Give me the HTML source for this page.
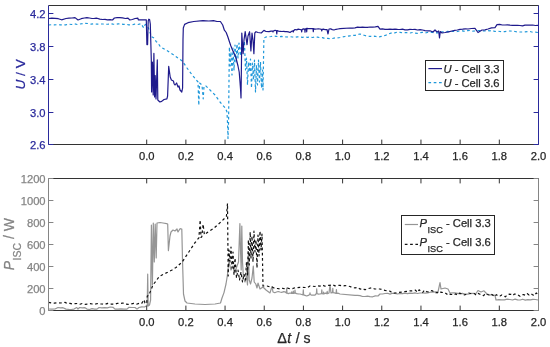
<!DOCTYPE html><html><head><meta charset="utf-8"><title>Figure</title><style>html,body{margin:0;padding:0;background:#fff;}body{width:550px;height:347px;overflow:hidden;}svg{display:block;}text{font-family:"Liberation Sans",Arial,Helvetica,sans-serif;}</style></head><body>
<svg width="550" height="347" viewBox="0 0 550 347">
<rect width="550" height="347" fill="#fff"/>
<defs><clipPath id="cu"><rect x="48.5" y="5.5" width="490" height="139"/></clipPath><clipPath id="cp"><rect x="48.5" y="178.5" width="490" height="132"/></clipPath></defs>
<g clip-path="url(#cu)" fill="none" stroke-linejoin="round">
<polyline points="48.5,25.0 51.4,24.7 54.2,24.9 57.1,24.7 60.0,24.8 62.9,24.8 65.8,24.8 68.7,24.1 71.6,24.5 74.4,23.8 77.2,24.5 80.0,24.0 82.7,23.6 85.3,23.4 88.0,23.5 91.0,24.1 94.0,23.7 97.0,24.2 100.0,24.0 102.7,24.0 105.3,24.3 108.0,24.2 110.5,23.8 113.1,24.2 115.6,24.3 118.2,23.9 120.7,23.8 123.3,24.3 126.0,24.3 128.8,24.8 131.6,25.0 134.7,24.2 137.9,24.5 141.0,23.8 143.7,27.9 144.8,25.0 146.0,24.4 147.5,26.0 149.4,30.2 151.3,36.5 153.5,37.7 156.3,41.7 158.0,42.9 160.4,46.9 166.0,50.0 173.4,54.7 182.5,61.2 187.0,68.0 191.6,74.2 198.0,82.0 198.8,105.3 199.6,83.0 202.0,85.0 203.2,98.8 204.0,86.0 205.8,85.8 210.0,90.0 215.0,95.0 220.0,102.0 225.3,108.0 227.0,112.0 227.6,125.0 228.0,138.4 228.6,120.0 229.0,80.0 229.4,47.0 230.2,66.0 231.0,52.0 232.0,75.0 233.0,48.0 234.0,70.0 235.0,45.0 236.0,62.0 237.0,44.0 238.0,58.0 239.0,43.0 240.5,56.0 241.5,44.0 243.0,52.0 244.4,41.0 245.5,70.0 246.5,58.0 247.5,85.0 248.5,62.0 249.6,72.0 250.5,59.0 251.5,88.0 252.5,63.0 253.5,80.0 254.5,60.0 255.5,92.0 256.5,65.0 257.5,85.0 258.5,60.0 259.5,82.0 260.5,62.0 261.5,88.0 262.5,70.0 263.0,90.0 263.5,60.0 263.9,38.0 266.0,37.0 268.5,36.9 271.0,36.5 273.5,36.0 276.0,36.3 278.8,36.7 281.6,36.4 284.4,36.8 287.2,37.0 290.0,36.7 292.5,37.0 295.0,37.3 297.5,36.8 300.0,37.0 302.5,37.3 305.0,36.9 307.5,37.4 310.0,37.0 312.5,37.5 315.0,36.9 317.5,37.1 320.0,37.6 322.5,37.6 325.0,38.6 327.5,38.3 330.0,38.6 332.5,38.5 335.0,37.9 337.5,37.8 340.0,37.5 342.5,37.0 345.0,36.5 347.5,36.3 350.0,35.8 352.5,35.4 355.0,35.3 357.5,34.6 360.0,34.0 362.5,35.0 365.0,35.5 367.5,36.2 370.0,36.3 372.5,36.6 375.0,36.2 377.5,37.0 380.0,36.7 383.0,36.2 386.0,35.1 389.0,33.8 392.0,32.7 394.7,32.8 397.3,32.1 400.0,32.3 402.5,32.8 405.0,32.7 407.5,32.6 410.0,33.0 412.5,32.5 415.0,33.2 417.5,33.3 420.0,32.7 422.5,32.3 425.0,33.0 427.5,32.5 430.0,32.3 432.5,32.4 435.0,32.8 437.5,32.9 440.0,32.5 442.5,31.8 445.0,32.2 447.5,31.4 450.0,31.9 452.5,31.3 455.0,31.6 457.5,31.5 460.0,30.8 462.5,30.8 465.0,31.4 467.5,30.7 470.0,30.5 472.5,31.1 475.0,31.0 477.5,30.5 480.0,30.6 482.5,30.8 485.0,31.0 487.5,30.5 490.0,30.8 492.5,30.5 495.0,31.5 497.5,31.1 500.0,31.5 502.5,31.8 505.0,31.6 507.5,31.0 510.0,31.0 512.5,31.2 515.0,31.5 517.5,31.9 520.0,32.0 522.5,32.0 525.0,31.8 527.5,31.7 530.0,31.5 532.7,32.3 535.3,32.2 538.0,32.5" stroke="#1f98da" stroke-width="1.2" stroke-dasharray="2.7 2.6"/>
<polyline points="48.5,18.5 51.8,18.2 55.0,18.3 58.3,18.7 61.6,19.8 66.0,18.5 69.0,18.2 72.0,18.0 75.0,17.6 78.0,20.0 81.2,18.7 84.4,18.0 86.9,17.6 89.4,18.0 92.0,18.5 94.5,18.4 97.0,18.2 99.8,19.1 102.5,19.5 105.0,19.4 107.5,19.8 110.0,19.7 112.5,20.0 114.4,18.0 117.1,17.7 119.8,17.7 122.6,17.9 125.3,18.5 128.0,18.2 129.8,20.0 132.4,19.5 135.0,18.5 137.9,18.2 138.3,19.8 146.3,19.8 146.9,44.6 147.6,44.6 148.2,21.0 148.8,19.2 149.6,19.5 150.3,24.0 151.3,60.0 151.6,92.0 152.4,62.0 153.2,95.0 153.9,53.4 154.6,97.0 155.2,75.5 156.0,99.0 157.3,59.9 157.8,100.0 159.9,102.0 161.7,101.4 164.0,99.5 166.9,98.8 167.6,96.0 168.7,66.4 170.2,77.0 171.4,80.0 173.4,81.0 174.2,84.0 175.0,85.0 176.6,83.0 178.0,87.0 179.0,86.0 180.0,90.0 181.8,92.0 182.6,88.0 183.0,40.0 183.3,28.0 184.6,24.4 188.0,22.7 193.8,21.5 203.0,20.7 208.8,21.0 213.5,20.6 217.0,21.5 220.4,21.5 222.7,25.0 224.4,30.2 226.2,32.5 227.9,37.0 229.6,42.3 230.8,45.8 232.5,50.0 234.0,53.0 236.0,58.0 238.0,66.0 239.2,72.0 240.0,82.0 240.6,90.0 241.0,98.0 241.5,60.0 241.8,33.0 243.1,53.7 244.0,40.0 245.2,31.7 247.0,44.6 248.0,36.0 249.6,31.7 250.9,51.0 252.0,33.0 253.0,40.0 253.9,53.7 254.8,33.0 256.0,31.7 258.0,32.5 261.3,33.0 263.9,30.4 266.0,31.5 269.0,31.7 271.0,31.2 272.7,31.0 273.0,32.0 273.3,31.0 275.0,30.4 276.4,30.5 276.8,34.0 277.1,30.5 278.5,31.1 280.2,31.3 282.0,31.5 283.6,31.3 285.2,31.6 286.8,31.7 288.4,31.9 290.0,32.5 291.7,31.3 293.0,30.8 293.3,32.0 293.6,30.8 295.0,29.5 296.7,29.9 298.3,29.1 300.0,29.5 301.4,29.8 301.7,32.0 302.0,29.8 303.3,28.8 304.7,29.1 305.0,32.2 305.3,29.1 306.4,28.4 306.7,31.8 307.0,28.4 308.3,28.6 310.0,28.5 311.7,28.7 313.0,28.6 313.3,31.7 313.6,28.6 315.0,29.2 316.7,29.0 318.3,28.8 320.0,29.0 321.4,29.3 321.8,31.0 322.1,29.3 323.5,29.1 325.2,29.7 327.0,29.5 328.0,34.0 329.0,29.0 330.7,28.9 332.3,29.6 334.0,30.0 336.0,29.3 338.0,29.0 340.0,28.7 350.0,28.0 352.5,28.1 355.0,27.9 357.5,27.2 360.0,27.3 362.5,27.1 365.0,27.3 367.5,27.3 370.0,27.0 372.7,27.1 375.3,26.9 378.0,26.3 380.0,29.2 382.5,28.8 385.0,29.3 387.5,29.4 390.0,29.2 392.5,29.3 395.0,29.1 397.5,29.4 400.0,29.5 402.5,29.1 405.0,29.8 407.5,29.8 410.0,29.4 412.5,29.5 415.0,29.4 417.5,30.0 420.0,29.7 422.5,30.0 425.0,30.6 427.5,30.8 430.0,30.8 433.0,32.0 435.0,30.0 437.0,32.0 438.7,31.0 439.5,38.0 440.3,31.5 442.0,33.0 445.0,32.5 448.5,31.8 452.0,31.0 454.7,30.4 457.3,30.0 460.0,29.4 462.7,29.2 465.3,28.8 468.0,29.0 471.5,28.5 475.0,28.4 478.0,32.5 482.0,30.0 485.0,29.8 488.0,29.0 491.5,27.9 495.0,27.7 497.0,24.7 499.7,24.4 502.3,25.0 505.0,25.0 507.5,24.9 510.0,25.2 512.5,25.3 515.0,25.3 517.5,25.3 520.0,25.5 522.5,25.9 525.0,25.1 527.5,25.2 530.0,25.2 532.7,25.0 535.3,25.5 538.0,25.4" stroke="#1f1a8c" stroke-width="1.2"/>
</g>
<g clip-path="url(#cp)" fill="none" stroke-linejoin="round">
<polyline points="48.5,309.0 51.8,309.1 55.0,309.0 58.0,307.5 60.5,307.8 63.0,307.7 66.0,309.1 68.7,309.4 71.3,309.5 74.0,309.1 76.8,307.5 78.0,309.1 79.5,307.5 82.2,307.8 85.0,307.7 87.0,309.1 89.5,309.5 92.0,308.6 94.5,309.1 97.0,309.1 99.0,307.5 101.8,307.9 104.6,307.6 107.4,307.8 110.2,307.0 113.0,307.3 115.0,309.1 118.0,309.1 121.0,308.8 124.0,309.1 127.0,309.1 129.0,307.3 132.0,307.5 135.0,307.5 137.0,309.1 139.0,307.5 141.8,306.8 144.5,307.0 146.2,306.0 147.2,306.0 147.7,274.2 148.2,306.0 149.5,305.0 150.6,300.0 151.4,225.0 152.4,285.0 153.3,223.0 154.3,262.0 155.2,224.0 156.2,258.0 157.0,223.0 160.0,222.5 163.0,223.0 166.6,223.6 167.7,224.0 168.4,250.6 170.0,236.0 171.0,232.0 173.0,230.0 175.0,231.0 177.0,229.0 178.0,232.0 180.0,228.7 181.8,229.0 182.5,260.0 183.5,294.0 185.0,301.0 187.0,303.0 195.0,304.0 205.0,304.5 215.0,304.0 220.5,303.0 222.0,298.0 224.0,292.6 226.0,284.0 227.3,276.0 228.4,266.0 229.0,262.0 231.0,270.0 233.0,266.0 235.0,272.0 237.0,266.0 238.5,262.0 239.3,240.0 239.9,223.6 240.5,250.0 241.2,270.0 241.8,226.0 242.5,262.0 243.5,278.0 245.0,282.0 246.5,276.0 247.5,285.0 248.4,252.0 249.2,280.0 250.5,284.0 252.0,278.0 253.3,266.0 254.2,282.0 255.8,284.0 257.0,288.0 258.0,283.0 260.0,289.0 263.0,287.0 266.0,290.0 268.0,291.4 270.0,292.9 272.0,286.5 273.0,292.0 274.8,292.7 276.5,292.0 278.2,291.5 280.0,292.0 281.7,292.4 283.3,291.7 285.0,291.8 286.4,293.0 286.7,288.0 287.0,293.0 288.3,293.6 290.0,293.0 291.4,293.4 291.7,291.8 292.0,293.4 293.0,293.4 293.3,291.2 293.6,293.4 294.7,293.1 295.0,290.0 295.3,293.1 296.7,293.6 298.3,293.9 300.0,294.0 301.7,294.5 303.0,294.9 303.3,289.9 303.6,294.9 305.0,295.4 306.7,296.0 308.3,295.4 309.7,294.5 310.0,292.8 310.3,294.5 311.7,295.2 313.3,295.2 315.0,295.2 316.4,293.5 316.7,288.8 317.0,293.5 318.3,294.1 320.0,294.0 321.5,293.6 321.8,289.9 322.1,293.6 323.3,294.0 323.6,292.2 323.9,294.0 325.4,293.1 326.9,293.6 327.2,291.3 327.5,293.6 329.0,293.0 330.0,285.0 331.0,293.0 332.5,292.6 332.8,288.3 333.1,292.6 334.6,292.9 336.1,293.5 336.4,289.5 336.7,293.5 338.2,293.2 340.0,294.0 355.0,295.4 357.5,295.3 360.0,295.6 362.5,296.5 365.0,296.5 367.5,296.1 370.0,296.7 372.7,296.8 375.3,295.9 378.0,296.0 380.0,294.0 382.5,294.0 385.0,293.5 387.5,293.3 390.0,294.1 392.5,293.3 395.0,293.3 397.5,294.0 400.0,293.4 402.5,293.7 405.0,293.1 407.5,293.7 410.0,293.2 412.5,293.3 415.0,292.8 417.5,293.5 420.0,293.0 422.6,293.0 425.1,293.2 427.7,293.0 430.3,292.2 432.9,292.1 435.4,291.8 438.0,292.0 440.0,282.7 441.0,289.0 443.0,288.5 445.0,288.0 448.0,289.0 450.0,293.0 452.5,292.8 455.0,292.9 457.5,293.3 460.0,293.8 462.5,293.3 465.0,294.0 467.8,294.1 470.5,293.6 473.2,293.4 476.0,293.5 478.0,290.5 481.0,292.0 484.0,290.8 487.0,294.0 489.7,294.8 492.3,294.9 495.0,295.4 496.0,300.0 498.8,299.7 501.6,299.8 504.4,299.9 507.2,299.2 510.0,299.5 512.5,300.0 515.1,299.1 517.6,299.9 520.2,300.0 522.7,299.2 525.3,300.1 527.8,299.7 530.4,299.9 532.9,299.4 535.5,299.5 538.0,300.0" stroke="#959595" stroke-width="1.2"/>
<polyline points="48.5,302.3 51.4,302.9 54.2,303.2 57.1,302.8 60.0,303.0 62.5,302.7 65.0,302.4 67.5,303.6 70.0,303.4 72.5,304.0 75.0,303.7 77.5,303.5 80.0,304.2 82.5,303.4 85.0,304.3 87.5,304.2 90.0,303.7 92.5,304.0 95.0,304.2 97.5,303.5 100.0,304.0 102.5,304.0 105.0,304.4 107.5,303.4 110.0,304.2 112.5,304.0 115.0,304.2 117.5,303.3 120.0,303.5 122.8,303.0 125.5,304.2 128.2,304.3 131.0,303.9 133.8,303.4 136.5,304.2 139.1,303.3 141.7,303.4 144.0,299.7 145.0,303.0 146.7,303.7 147.3,296.0 148.8,295.3 153.0,284.9 156.0,281.0 159.2,276.5 163.0,274.5 167.6,272.3 172.0,270.0 176.0,267.5 182.2,262.0 188.5,252.5 194.7,243.0 198.9,237.8 200.2,220.0 201.0,237.5 201.8,236.8 203.1,224.3 204.4,234.7 208.0,232.0 213.5,228.5 218.0,224.5 221.9,221.0 226.4,216.5 227.5,203.4 228.2,276.0 229.0,250.0 230.0,262.0 231.0,247.0 232.0,268.0 233.0,252.0 234.0,275.0 235.0,258.0 236.5,278.0 238.0,270.0 239.5,280.0 241.0,272.0 242.5,282.0 244.0,274.0 245.5,280.0 246.5,262.0 247.5,275.0 248.4,240.0 249.3,265.0 250.2,232.0 251.0,258.0 252.0,236.0 253.0,262.0 254.0,231.0 255.0,252.0 256.0,240.0 257.0,268.0 258.0,235.0 259.0,256.0 260.0,231.0 261.0,250.0 262.0,234.0 263.0,286.0 267.0,286.0 269.6,286.8 272.2,286.9 274.8,288.5 277.4,288.5 280.0,289.0 282.5,288.3 285.0,288.8 287.5,288.1 290.0,288.8 292.5,288.6 295.0,287.7 297.5,287.7 300.0,287.3 302.5,287.4 305.0,287.5 307.5,287.6 310.0,285.9 312.5,286.2 315.0,286.5 317.5,285.8 320.0,286.1 322.5,285.1 325.0,286.2 327.5,285.5 330.0,285.3 332.5,284.8 335.0,285.9 337.5,285.4 340.0,285.4 342.5,286.0 345.0,285.6 347.5,285.9 350.0,286.5 352.5,287.6 355.0,287.9 357.5,287.4 360.0,289.1 362.5,288.5 365.0,289.8 368.5,288.5 372.0,287.8 374.6,289.0 377.2,289.0 379.8,289.0 382.4,289.7 385.0,290.4 387.5,290.9 390.0,291.1 392.5,293.1 395.0,293.0 410.0,290.9 411.8,290.9 413.6,290.7 415.5,290.1 417.3,292.2 419.1,289.8 420.9,291.3 422.7,292.5 424.5,290.2 426.4,291.6 428.2,291.9 430.0,291.6 431.8,290.6 433.6,291.7 435.5,292.9 437.3,292.4 439.1,293.4 440.9,292.1 442.7,292.5 444.5,292.4 446.4,293.7 448.2,295.2 450.0,294.2 451.9,294.5 453.8,295.0 455.6,293.9 457.5,294.9 459.4,293.1 461.2,293.6 463.1,294.7 465.0,294.8 466.9,294.0 468.8,293.0 470.6,293.5 472.5,293.4 474.4,293.6 476.2,295.1 478.1,293.4 480.0,294.2 481.8,295.4 483.6,295.6 485.5,293.4 487.3,294.5 489.1,295.0 490.9,293.8 492.7,295.1 494.5,296.6 496.4,294.6 498.2,296.1 500.0,296.0 501.8,294.9 503.6,296.0 505.4,296.8 507.2,294.8 509.0,294.2 510.9,294.3 512.7,295.5 514.5,294.0 516.3,294.1 518.1,295.1 519.9,296.2 521.7,294.7 523.5,294.6 525.3,295.2 527.1,293.6 529.0,294.9 530.8,293.6 532.6,294.8 534.4,295.7 536.2,293.0 538.0,294.2" stroke="#111" stroke-width="1.2" stroke-dasharray="2.7 2.6"/>
</g>
<line x1="48.5" y1="5.5" x2="538.5" y2="5.5" stroke="#333333" stroke-width="1"/>
<line x1="48.5" y1="144.5" x2="538.5" y2="144.5" stroke="#333333" stroke-width="1"/>
<line x1="146.7" y1="5.5" x2="146.7" y2="10.4" stroke="#333333" stroke-width="1"/>
<line x1="146.7" y1="144.5" x2="146.7" y2="139.6" stroke="#333333" stroke-width="1"/>
<line x1="185.88" y1="5.5" x2="185.88" y2="10.4" stroke="#333333" stroke-width="1"/>
<line x1="185.88" y1="144.5" x2="185.88" y2="139.6" stroke="#333333" stroke-width="1"/>
<line x1="225.06" y1="5.5" x2="225.06" y2="10.4" stroke="#333333" stroke-width="1"/>
<line x1="225.06" y1="144.5" x2="225.06" y2="139.6" stroke="#333333" stroke-width="1"/>
<line x1="264.24" y1="5.5" x2="264.24" y2="10.4" stroke="#333333" stroke-width="1"/>
<line x1="264.24" y1="144.5" x2="264.24" y2="139.6" stroke="#333333" stroke-width="1"/>
<line x1="303.42" y1="5.5" x2="303.42" y2="10.4" stroke="#333333" stroke-width="1"/>
<line x1="303.42" y1="144.5" x2="303.42" y2="139.6" stroke="#333333" stroke-width="1"/>
<line x1="342.6" y1="5.5" x2="342.6" y2="10.4" stroke="#333333" stroke-width="1"/>
<line x1="342.6" y1="144.5" x2="342.6" y2="139.6" stroke="#333333" stroke-width="1"/>
<line x1="381.78" y1="5.5" x2="381.78" y2="10.4" stroke="#333333" stroke-width="1"/>
<line x1="381.78" y1="144.5" x2="381.78" y2="139.6" stroke="#333333" stroke-width="1"/>
<line x1="420.96" y1="5.5" x2="420.96" y2="10.4" stroke="#333333" stroke-width="1"/>
<line x1="420.96" y1="144.5" x2="420.96" y2="139.6" stroke="#333333" stroke-width="1"/>
<line x1="460.14" y1="5.5" x2="460.14" y2="10.4" stroke="#333333" stroke-width="1"/>
<line x1="460.14" y1="144.5" x2="460.14" y2="139.6" stroke="#333333" stroke-width="1"/>
<line x1="499.32" y1="5.5" x2="499.32" y2="10.4" stroke="#333333" stroke-width="1"/>
<line x1="499.32" y1="144.5" x2="499.32" y2="139.6" stroke="#333333" stroke-width="1"/>
<line x1="538.5" y1="5.5" x2="538.5" y2="10.4" stroke="#333333" stroke-width="1"/>
<line x1="538.5" y1="144.5" x2="538.5" y2="139.6" stroke="#333333" stroke-width="1"/>
<line x1="48.5" y1="5.5" x2="48.5" y2="144.5" stroke="#2a2a9c" stroke-width="1"/>
<line x1="538.5" y1="5.5" x2="538.5" y2="144.5" stroke="#2a2a9c" stroke-width="1"/>
<line x1="48.5" y1="144.5" x2="53.4" y2="144.5" stroke="#2a2a9c" stroke-width="1"/>
<line x1="538.5" y1="144.5" x2="533.6" y2="144.5" stroke="#2a2a9c" stroke-width="1"/>
<line x1="48.5" y1="112.5" x2="53.4" y2="112.5" stroke="#2a2a9c" stroke-width="1"/>
<line x1="538.5" y1="112.5" x2="533.6" y2="112.5" stroke="#2a2a9c" stroke-width="1"/>
<line x1="48.5" y1="79.5" x2="53.4" y2="79.5" stroke="#2a2a9c" stroke-width="1"/>
<line x1="538.5" y1="79.5" x2="533.6" y2="79.5" stroke="#2a2a9c" stroke-width="1"/>
<line x1="48.5" y1="46.5" x2="53.4" y2="46.5" stroke="#2a2a9c" stroke-width="1"/>
<line x1="538.5" y1="46.5" x2="533.6" y2="46.5" stroke="#2a2a9c" stroke-width="1"/>
<line x1="48.5" y1="13.5" x2="53.4" y2="13.5" stroke="#2a2a9c" stroke-width="1"/>
<line x1="538.5" y1="13.5" x2="533.6" y2="13.5" stroke="#2a2a9c" stroke-width="1"/>
<line x1="48.5" y1="178.5" x2="538.5" y2="178.5" stroke="#333333" stroke-width="1"/>
<line x1="48.5" y1="310.5" x2="538.5" y2="310.5" stroke="#333333" stroke-width="1"/>
<line x1="146.7" y1="178.5" x2="146.7" y2="183.4" stroke="#333333" stroke-width="1"/>
<line x1="146.7" y1="310.5" x2="146.7" y2="305.6" stroke="#333333" stroke-width="1"/>
<line x1="185.88" y1="178.5" x2="185.88" y2="183.4" stroke="#333333" stroke-width="1"/>
<line x1="185.88" y1="310.5" x2="185.88" y2="305.6" stroke="#333333" stroke-width="1"/>
<line x1="225.06" y1="178.5" x2="225.06" y2="183.4" stroke="#333333" stroke-width="1"/>
<line x1="225.06" y1="310.5" x2="225.06" y2="305.6" stroke="#333333" stroke-width="1"/>
<line x1="264.24" y1="178.5" x2="264.24" y2="183.4" stroke="#333333" stroke-width="1"/>
<line x1="264.24" y1="310.5" x2="264.24" y2="305.6" stroke="#333333" stroke-width="1"/>
<line x1="303.42" y1="178.5" x2="303.42" y2="183.4" stroke="#333333" stroke-width="1"/>
<line x1="303.42" y1="310.5" x2="303.42" y2="305.6" stroke="#333333" stroke-width="1"/>
<line x1="342.6" y1="178.5" x2="342.6" y2="183.4" stroke="#333333" stroke-width="1"/>
<line x1="342.6" y1="310.5" x2="342.6" y2="305.6" stroke="#333333" stroke-width="1"/>
<line x1="381.78" y1="178.5" x2="381.78" y2="183.4" stroke="#333333" stroke-width="1"/>
<line x1="381.78" y1="310.5" x2="381.78" y2="305.6" stroke="#333333" stroke-width="1"/>
<line x1="420.96" y1="178.5" x2="420.96" y2="183.4" stroke="#333333" stroke-width="1"/>
<line x1="420.96" y1="310.5" x2="420.96" y2="305.6" stroke="#333333" stroke-width="1"/>
<line x1="460.14" y1="178.5" x2="460.14" y2="183.4" stroke="#333333" stroke-width="1"/>
<line x1="460.14" y1="310.5" x2="460.14" y2="305.6" stroke="#333333" stroke-width="1"/>
<line x1="499.32" y1="178.5" x2="499.32" y2="183.4" stroke="#333333" stroke-width="1"/>
<line x1="499.32" y1="310.5" x2="499.32" y2="305.6" stroke="#333333" stroke-width="1"/>
<line x1="538.5" y1="178.5" x2="538.5" y2="183.4" stroke="#333333" stroke-width="1"/>
<line x1="538.5" y1="310.5" x2="538.5" y2="305.6" stroke="#333333" stroke-width="1"/>
<line x1="48.5" y1="178.5" x2="48.5" y2="310.5" stroke="#858585" stroke-width="1"/>
<line x1="538.5" y1="178.5" x2="538.5" y2="310.5" stroke="#858585" stroke-width="1"/>
<line x1="48.5" y1="310.5" x2="53.4" y2="310.5" stroke="#858585" stroke-width="1"/>
<line x1="538.5" y1="310.5" x2="533.6" y2="310.5" stroke="#858585" stroke-width="1"/>
<line x1="48.5" y1="288.5" x2="53.4" y2="288.5" stroke="#858585" stroke-width="1"/>
<line x1="538.5" y1="288.5" x2="533.6" y2="288.5" stroke="#858585" stroke-width="1"/>
<line x1="48.5" y1="266.5" x2="53.4" y2="266.5" stroke="#858585" stroke-width="1"/>
<line x1="538.5" y1="266.5" x2="533.6" y2="266.5" stroke="#858585" stroke-width="1"/>
<line x1="48.5" y1="244.5" x2="53.4" y2="244.5" stroke="#858585" stroke-width="1"/>
<line x1="538.5" y1="244.5" x2="533.6" y2="244.5" stroke="#858585" stroke-width="1"/>
<line x1="48.5" y1="222.5" x2="53.4" y2="222.5" stroke="#858585" stroke-width="1"/>
<line x1="538.5" y1="222.5" x2="533.6" y2="222.5" stroke="#858585" stroke-width="1"/>
<line x1="48.5" y1="200.5" x2="53.4" y2="200.5" stroke="#858585" stroke-width="1"/>
<line x1="538.5" y1="200.5" x2="533.6" y2="200.5" stroke="#858585" stroke-width="1"/>
<line x1="48.5" y1="178.5" x2="53.4" y2="178.5" stroke="#858585" stroke-width="1"/>
<line x1="538.5" y1="178.5" x2="533.6" y2="178.5" stroke="#858585" stroke-width="1"/>
<g font-size="11.2" fill="#262626" stroke="#262626" stroke-width="0.25" text-anchor="middle">
<text x="146.7" y="159.6">0.0</text>
<text x="146.7" y="325.6">0.0</text>
<text x="185.9" y="159.6">0.2</text>
<text x="185.9" y="325.6">0.2</text>
<text x="225.1" y="159.6">0.4</text>
<text x="225.1" y="325.6">0.4</text>
<text x="264.2" y="159.6">0.6</text>
<text x="264.2" y="325.6">0.6</text>
<text x="303.4" y="159.6">0.8</text>
<text x="303.4" y="325.6">0.8</text>
<text x="342.6" y="159.6">1.0</text>
<text x="342.6" y="325.6">1.0</text>
<text x="381.8" y="159.6">1.2</text>
<text x="381.8" y="325.6">1.2</text>
<text x="421.0" y="159.6">1.4</text>
<text x="421.0" y="325.6">1.4</text>
<text x="460.1" y="159.6">1.6</text>
<text x="460.1" y="325.6">1.6</text>
<text x="499.3" y="159.6">1.8</text>
<text x="499.3" y="325.6">1.8</text>
<text x="538.5" y="159.6">2.0</text>
<text x="538.5" y="325.6">2.0</text>
</g>
<g font-size="11.2" fill="#2a2a9c" stroke="#2a2a9c" stroke-width="0.25" text-anchor="end">
<text x="45.6" y="149.1">2.6</text>
<text x="45.6" y="117.1">3.0</text>
<text x="45.6" y="84.1">3.4</text>
<text x="45.6" y="51.1">3.8</text>
<text x="45.6" y="18.1">4.2</text>
</g>
<g font-size="11.2" fill="#858585" stroke="#858585" stroke-width="0.25" text-anchor="end">
<text x="45.6" y="315.0">0</text>
<text x="45.6" y="293.0">200</text>
<text x="45.6" y="271.0">400</text>
<text x="45.6" y="249.0">600</text>
<text x="45.6" y="227.0">800</text>
<text x="45.6" y="205.0">1000</text>
<text x="45.6" y="183.0">1200</text>
</g>
<text transform="translate(25.3,74.4) rotate(-90)" text-anchor="middle" font-size="13.6" fill="#2a2a9c" stroke="#2a2a9c" stroke-width="0.25"><tspan font-style="italic">U</tspan> / V</text>
<text transform="translate(14.2,244.2) rotate(-90)" text-anchor="middle" font-size="14" fill="#858585" stroke="#858585" stroke-width="0.25"><tspan font-style="italic">P</tspan><tspan font-size="10.5" dy="6.3" dx="0.6">ISC</tspan><tspan dy="-6.3" dx="0"> / W</tspan></text>
<text x="293.8" y="342.6" text-anchor="middle" font-size="14" fill="#262626" stroke="#262626" stroke-width="0.25"><tspan font-size="14.5">Δ</tspan><tspan font-style="italic" dx="0.4">t</tspan><tspan dx="0.6"> / s</tspan></text>
<rect x="425.5" y="60.5" width="78" height="30" fill="#fff" stroke="#262626" stroke-width="1"/>
<line x1="428.4" y1="68.6" x2="442" y2="68.6" stroke="#1f1a8c" stroke-width="1.2"/>
<line x1="428.4" y1="82.6" x2="442" y2="82.6" stroke="#1f98da" stroke-width="1.2" stroke-dasharray="2.7 2.6"/>
<g font-size="11.2" fill="#262626" stroke="#262626" stroke-width="0.25"><text x="443.5" y="72.6"><tspan font-style="italic">U</tspan> - Cell 3.3</text><text x="443.5" y="86.6"><tspan font-style="italic">U</tspan> - Cell 3.6</text></g>
<rect x="401.5" y="215.5" width="93" height="39" fill="#fff" stroke="#262626" stroke-width="1"/>
<line x1="404.8" y1="224.5" x2="418" y2="224.5" stroke="#959595" stroke-width="1.2"/>
<line x1="404.8" y1="244.3" x2="418" y2="244.3" stroke="#111" stroke-width="1.2" stroke-dasharray="2.7 2.6"/>
<g font-size="11.2" fill="#262626" stroke="#262626" stroke-width="0.25"><text x="419.6" y="227.3"><tspan font-style="italic">P</tspan><tspan font-size="9.2" dy="5.6" dx="0.4">ISC</tspan><tspan dy="-5.6" dx="3.2">- Cell 3.3</tspan></text><text x="419.6" y="246.1"><tspan font-style="italic">P</tspan><tspan font-size="9.2" dy="5.6" dx="0.4">ISC</tspan><tspan dy="-5.6" dx="3.2">- Cell 3.6</tspan></text></g>
</svg></body></html>
